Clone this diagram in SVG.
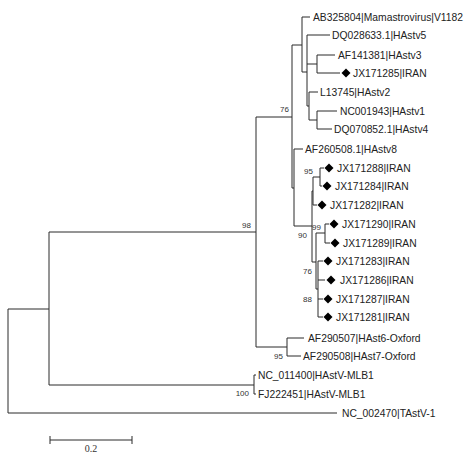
<svg xmlns="http://www.w3.org/2000/svg" xmlns:xlink="http://www.w3.org/1999/xlink" width="474" height="456" viewBox="0 0 474 456">
<style>
.br{fill:none;stroke:#2a2a2a;stroke-width:1}
.lb{font-family:"Liberation Sans",Arial,sans-serif;font-size:10.3px;fill:#222}
.bs{font-family:"Liberation Sans",Arial,sans-serif;font-size:8px;fill:#333;text-anchor:end}
.sc{font-family:"Liberation Serif","Times New Roman",serif;font-size:10px;fill:#333;text-anchor:middle}
.dm{fill:#000}
</style>
<defs>
<polygon id="dia" class="dm" points="-4.5,0 0,-4.5 4.5,0 0,4.5"/>
</defs>
<rect width="474" height="456" fill="#fff"/>
<g id="connectors">
<path class="br" d="M8,309V413M8,309H49M8,413H337"/>
<path class="br" d="M49,232V385M49,232H256M49,385H254"/>
<path class="br" d="M254,375V394M254,375H256M254,394H256"/>
<path class="br" d="M256,117V347M256,117H292M256,347H287"/>
<path class="br" d="M287,338V356M287,338H304M287,356H301"/>
<path class="br" d="M292,45V188M292,45H302M292,188H294"/>
<path class="br" d="M302,17V72M302,17H310M302,72H307"/>
<path class="br" d="M307,35V106M307,35H330M307,64H317M307,106H309"/>
<path class="br" d="M317,55V73M317,55H335M317,73H340"/>
<path class="br" d="M309,92V120M309,92H318M309,120H317"/>
<path class="br" d="M317,111V129M317,111H337M317,129H332"/>
<path class="br" d="M294,149V226M294,149H303M294,226H312"/>
<path class="br" d="M312,191V262M312,191H313M312,262H316"/>
<path class="br" d="M313,177V205M313,177H320M313,205H317"/>
<path class="br" d="M320,168V186M320,168H324M320,186H322"/>
<path class="br" d="M316,233V289M316,233H325M316,289H318"/>
<path class="br" d="M325,224V243M325,224H329M325,243H330"/>
<path class="br" d="M318,261V317M318,261H323M318,280H325M318,299H323M318,317H323"/>
</g>
<g id="t-AB325804"><text class="lb" x="313" y="20.7">AB325804|Mamastrovirus|V1182</text></g>
<g id="t-DQ028633"><text class="lb" x="332" y="38.7">DQ028633.1|HAstv5</text></g>
<g id="t-AF141381"><text class="lb" x="338" y="58.7">AF141381|HAstv3</text></g>
<g id="t-JX171285"><use xlink:href="#dia" x="346" y="73"/><text class="lb" x="353" y="76.7">JX171285|IRAN</text></g>
<g id="t-L13745"><text class="lb" x="320" y="95.7">L13745|HAstv2</text></g>
<g id="t-NC001943"><text class="lb" x="340" y="114.7">NC001943|HAstv1</text></g>
<g id="t-DQ070852"><text class="lb" x="334" y="132.7">DQ070852.1|HAstv4</text></g>
<g id="t-AF260508"><text class="lb" x="305" y="152.7">AF260508.1|HAstv8</text></g>
<g id="t-JX171288"><use xlink:href="#dia" x="329" y="168"/><text class="lb" x="337" y="171.7">JX171288|IRAN</text></g>
<g id="t-JX171284"><use xlink:href="#dia" x="327" y="186"/><text class="lb" x="335" y="189.7">JX171284|IRAN</text></g>
<g id="t-JX171282"><use xlink:href="#dia" x="322" y="205"/><text class="lb" x="330" y="208.7">JX171282|IRAN</text></g>
<g id="t-JX171290"><use xlink:href="#dia" x="334" y="224"/><text class="lb" x="342" y="227.7">JX171290|IRAN</text></g>
<g id="t-JX171289"><use xlink:href="#dia" x="335" y="243"/><text class="lb" x="343" y="246.7">JX171289|IRAN</text></g>
<g id="t-JX171283"><use xlink:href="#dia" x="328" y="261"/><text class="lb" x="336" y="264.7">JX171283|IRAN</text></g>
<g id="t-JX171286"><use xlink:href="#dia" x="331" y="280"/><text class="lb" x="340" y="283.7">JX171286|IRAN</text></g>
<g id="t-JX171287"><use xlink:href="#dia" x="328" y="299"/><text class="lb" x="336" y="302.7">JX171287|IRAN</text></g>
<g id="t-JX171281"><use xlink:href="#dia" x="328" y="317"/><text class="lb" x="336" y="320.7">JX171281|IRAN</text></g>
<g id="t-AF290507"><text class="lb" x="308" y="341.7">AF290507|HAst6-Oxford</text></g>
<g id="t-AF290508"><text class="lb" x="303" y="359.7">AF290508|HAst7-Oxford</text></g>
<g id="t-NC_011400"><text class="lb" x="258" y="378.7">NC_011400|HAstV-MLB1</text></g>
<g id="t-FJ222451"><text class="lb" x="258" y="397.7">FJ222451|HAstV-MLB1</text></g>
<g id="t-NC_002470"><text class="lb" x="342" y="416.7">NC_002470|TAstV-1</text></g>
<g id="bootstrap">
<text class="bs" x="289" y="112">76</text>
<text class="bs" x="251" y="228">98</text>
<text class="bs" x="313" y="174">95</text>
<text class="bs" x="307" y="238">90</text>
<text class="bs" x="321" y="230">99</text>
<text class="bs" x="312" y="274">76</text>
<text class="bs" x="312" y="302">88</text>
<text class="bs" x="283" y="359">95</text>
<text class="bs" x="249" y="396">100</text>
</g>
<g id="scale-bar">
<path class="br" d="M50,440H132M50,436V444M132,436V444"/>
<text class="sc" x="91" y="452">0.2</text>
</g>
</svg>
